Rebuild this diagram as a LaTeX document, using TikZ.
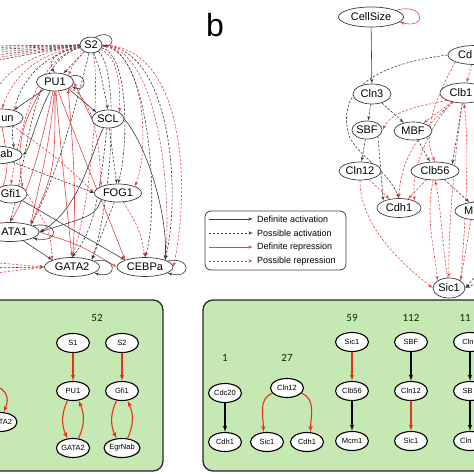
\documentclass[tikz,border=0pt]{standalone}
\usepackage{fontspec}
\setmainfont{Liberation Sans}
\newfontfamily\numfont{Carlito}
\usepackage{tikz}
\usetikzlibrary{arrows}
\usetikzlibrary{shapes,backgrounds}
\definecolor{netred}{RGB}{228,70,72}
\definecolor{motred}{RGB}{226,52,28}
\definecolor{motgreen}{RGB}{198,232,178}
\definecolor{netgray}{RGB}{60,60,60}
\tikzstyle{net}  = [ellipse, draw=netgray, line width=0.7pt, fill=white, inner sep=0pt, minimum height=18, font=\fontsize{11}{12}\selectfont]
\tikzstyle{act}  = [draw=netgray, -{latex'}, line width=0.6pt]
\tikzstyle{dact} = [act, dash pattern=on 2.4pt off 1.6pt]
\tikzstyle{rep}  = [draw=netred, -{latex'}, line width=0.6pt]
\tikzstyle{drep} = [rep, dash pattern=on 2.4pt off 1.6pt]
\tikzstyle{mot}  = [ellipse, draw=black, line width=1.1pt, fill=white, inner sep=0pt, minimum width=33, minimum height=19, font=\fontsize{7.5}{8}\selectfont]
\tikzstyle{mact} = [draw=black, -{latex'}, line width=1.1pt]
\tikzstyle{mrep} = [draw=motred, -{latex'}, line width=1.1pt]
\tikzstyle{num}  = [font=\numfont\fontsize{11}{12}\selectfont, text=black!80!green]

\begin{document}
\begin{tikzpicture}[x=1pt,y=-1pt]
	\useasboundingbox (0,0) rectangle (474,474);
	% -------------- Network a --------------
	\node[net, minimum width=22, minimum height=16] (S2)   at (91,45)  {S2};
	\node[net, minimum width=37] 				  (PU1)    at (55,82)  {PU1};
	\node[net, minimum width=42] 				  (cJun)   at (2,118)  {\phantom{cJ}un};
	\node[net, minimum width=56] 				  (EgrNab) at (-6,155) {\phantom{EgrN}ab};
	\node[net, minimum width=32] 				  (Gfi1)   at (11,194) {Gfi1};
	\node[net, minimum width=58, minimum height=19] (GATA1)  at (10,232) {\phantom{G}ATA1};
	\node[net, minimum width=32] 				  (SCL)    at (108,119) {SCL};
	\node[net, minimum width=47] 				  (FOG1)   at (118,193) {FOG1};
	\node[net, minimum width=55, minimum height=19] (GATA2)  at (72,267) {GATA2};
	\node[net, minimum width=56, minimum height=19] (CEBPa)  at (145,267) {CEBPa};
	\begin{scope}[on background layer]
	\clip (0,0) rectangle (474,474);
	% S2 towards the left edge
	\foreach \yy/\s in {46/dact, 48/drep, 50/dact, 53/drep, 56/dact, 59/drep, 62/dact}
		{\coordinate (w\yy) at (-12,\yy); \draw[\s] (S2.west) -- (w\yy);}
	\draw[drep] (S2) .. controls (45,52) and (15,70)   .. (cJun.north);
	\draw[dact] (S2) .. controls (40,55) and (5,90)    .. (EgrNab.north east);
	\draw[drep] (S2) .. controls (35,58) and (20,130)  .. (Gfi1.north);
	\draw[dact] (S2) .. controls (30,60) and (28,160)  .. (GATA1.north);
	\draw[drep] (S2) .. controls (25,52) and (-5,80)   .. (cJun.north west);
	\draw[dact] (S2) -- (PU1);
	\draw[drep] (S2) .. controls (78,58) and (72,66)   .. (PU1.north east);
	\draw[dact] (S2) .. controls (60,50) and (45,60)   .. (PU1.north);
	% S2 towards the right side
	\draw[dact] (S2) .. controls (100,70) 			   .. (SCL.north);
	\draw[drep] (S2) .. controls (120,58) and (120,90) .. (SCL.north east);
	\draw[dact] (S2) .. controls (130,55) and (128,150) .. (FOG1.north);
	\draw[drep] (S2) .. controls (145,50) and (150,150) .. (FOG1.north east);
	\draw[dact] (S2) .. controls (150,46) and (160,210) .. (CEBPa.north);
	\draw[drep] (S2) .. controls (160,47) and (172,200) .. (CEBPa.north east);
	\draw[dact] (S2) .. controls (170,46) and (182,190) .. (CEBPa.north east);
	\draw[drep] (S2) .. controls (182,45) and (192,180) .. (CEBPa.east);
	\draw[dact] (S2) .. controls (120,70) and (112,200) .. (GATA2.north east);
	\draw[drep] (S2) .. controls (100,80) and (92,200)  .. (GATA2.north);
	\draw[dact] (S2) .. controls (80,90) and (60,170)   .. (GATA1.north east);
	% PU1 repression
	\draw[rep] (PU1) .. controls (40,150) and (30,190)  .. (GATA1.north);
	\draw[rep] (PU1) .. controls (50,150) and (35,200)  .. (GATA1.north east);
	\draw[rep] (GATA1.north east) .. controls (55,170) .. (PU1.south);
	\draw[rep] (PU1) .. controls (62,160) 			   .. (GATA2.north);
	\draw[rep] (GATA2) .. controls (78,180) and (70,120) .. (PU1.south east);
	\draw[rep] (PU1) .. controls (80,150) and (110,220) .. (CEBPa.north west);
	\draw[rep] (PU1.south west) .. controls (25,120) and (15,140) .. (Gfi1.north east);
	\draw[rep] (SCL.west) -- (PU1.east);
	\draw[rep] (GATA1.east) .. controls (80,245) 		   .. (CEBPa.west);
	\draw[rep] (cJun.south) .. controls (10,170) 		   .. (GATA1.north west);
	% activation
	\draw[act] (PU1) -- (cJun);
	\draw[act] (PU1) .. controls (35,120) and (30,150)  .. (EgrNab.east);
	\draw[act] (PU1.south east) -- (SCL.north west);
	\draw[act] (SCL) .. controls (92,150) and (80,210)  .. (GATA1.east);
	\draw[act] (FOG1.south west) .. controls (95,215)   .. (GATA1.east);
	\draw[act] (Gfi1) -- (CEBPa.north west);
	\draw[act] (SCL.east) .. controls (150,150) and (168,220) .. (CEBPa.north east);
	\draw[act] (GATA1) -- (GATA2.north west);
	% other possible edges
	\draw[drep] (PU1) .. controls (100,100) and (100,170) .. (FOG1.north west);
	\draw[dact] (SCL) -- (FOG1);
	\draw[drep] (cJun) .. controls (60,160) 				  .. (FOG1.west);
	\draw[dact] (EgrNab) -- (FOG1.west);
	\draw[drep] (FOG1) .. controls (140,230) 			  .. (CEBPa.north);
	\draw[dact] (FOG1) -- (GATA2.north east);
	\draw[dact] (SCL) .. controls (100,190) and (95,230)  .. (GATA2.north);
	\draw[drep] (Gfi1.east) .. controls (50,230) 		  .. (GATA2.north west);
	\foreach \yy/\s in {262/drep, 268/dact, 274/drep}
		{\coordinate (g\yy) at (-12,\yy); \draw[\s] (g\yy) -- (GATA2.west);}
	% self loops
	\draw[act] (S2.60)    .. controls (112,28) and (118,46)  .. (S2.-5);
	\draw[act] (PU1.20)   .. controls (88,70) and (88,94)    .. (PU1.-15);
	\draw[act] (GATA1.15) .. controls (60,220) and (60,244)  .. (GATA1.-15);
	\draw[act] (GATA2.15) .. controls (118,256) and (118,280) .. (GATA2.-15);
	\draw[act] (CEBPa.15) .. controls (192,256) and (192,280) .. (CEBPa.-15);
	\end{scope}
	% -------------- Network b --------------
	\node[font=\fontsize{32}{32}\selectfont] (lblb) at (215,25) {b};
	\node[net, minimum width=65, minimum height=20] (CellSize) at (371,17) {CellSize};
	\node[net, minimum width=52, minimum height=19] (Cdc20)    at (474,55) {Cd\phantom{c20}};
	\node[net, minimum width=38, minimum height=20] (Cln3)     at (372,94) {Cln3};
	\node[net, minimum width=48, minimum height=20] (Clb12)    at (464,93) {Clb1\phantom{2}};
	\node[net, minimum width=30] 				  (SBF)      at (367,130) {SBF};
	\node[net, minimum width=38] 				  (MBF)      at (413,131) {MBF};
	\node[net, minimum width=42] 				  (Cln12)    at (360,171) {Cln12};
	\node[net, minimum width=48] 				  (Clb56)    at (435,171) {Clb56};
	\node[net, minimum width=44, minimum height=19] (Cdh1)     at (399,208) {Cdh1};
	\node[net, minimum width=48] 				  (Mcm1)     at (479,211) {M\phantom{cm1}};
	\node[net, minimum width=32, minimum height=20] (Sic1)     at (449,288) {Sic1};
	\begin{scope}[on background layer]
	\clip (0,0) rectangle (474,474);
	\draw[rep]  (CellSize.15) .. controls (425,2) and (428,30) .. (CellSize.-10);
	\draw[act]  (CellSize) -- (Cln3);
	\draw[dact] (Cln3) -- (SBF);
	\draw[dact] (Cln3) -- (MBF);
	\draw[dact] (Cdc20.west) .. controls (345,68) and (340,110) .. (350,138) .. controls (362,160) and (388,170) .. (Cdh1.north);
	\draw[drep] (Cdc20) -- (Clb12);
	\draw[drep] (Cdc20.south west) .. controls (440,90) and (420,130) .. (Clb56.north);
	\draw[drep] (Clb12) -- (MBF);
	\draw[drep] (Clb12.south west) .. controls (410,108) and (392,112) .. (SBF.east);
	\draw[dact] (SBF) -- (Cln12);
	\draw[dact] (SBF.south east) -- (Cdh1.north west);
	\draw[dact] (MBF) -- (Clb56);
	\draw[dact] (Clb12) -- (Clb56.north east);
	\draw[drep] (Clb12) .. controls (420,130) and (400,160) .. (Cdh1.north);
	\draw[drep] (Clb12) .. controls (432,120) and (410,170) .. (Cdh1.north east);
	\draw[drep] (Cln12) -- (Cdh1);
	\draw[drep] (Clb56) -- (Cdh1);
	\draw[dact] (Clb56) -- (Mcm1);
	\draw[drep] (Cln12.south) .. controls (360,230) and (410,270) .. (Sic1.west);
	\draw[drep] (Clb56) .. controls (425,220) and (435,250) .. (Sic1.north west);
	\draw[drep] (Sic1) .. controls (442,240) and (440,200) .. (Clb56.south);
	\draw[drep] (Clb12) .. controls (455,150) and (448,230) .. (Sic1.north);
	\draw[drep] (Sic1.north east) .. controls (465,230) and (470,150) .. (Clb12.south);
	\draw[drep] (Clb12.south east) .. controls (478,180) .. (Sic1.north east);
	\foreach \yy/\s in {266/dact, 280/dact}
		{\coordinate (e\yy) at (484,\yy); \draw[\s] (e\yy) -- (Sic1.east);}
	\end{scope}
	% -------------- Legend --------------
	\draw[rounded corners=6, draw=black!75, line width=0.8pt] (205,211) rectangle (346,270);
	\foreach \i/\s/\txt/\yy in {1/act/Definite activation/219, 2/dact/Possible activation/233, 3/rep/Definite repression/247, 4/drep/Possible repression/261}
		{\coordinate (la\i) at (209,\yy); \coordinate (lb\i) at (253,\yy);
		 \draw[\s] (la\i) -- (lb\i);
		 \node[anchor=west, font=\fontsize{9}{10}\selectfont, inner sep=0pt] (lt\i) at (257,\yy) {\txt};}
	% -------------- Motif panels --------------
	\draw[fill=motgreen, draw=black!85, line width=1.3pt, rounded corners=10] (-20,300) rectangle (163,471);
	\draw[fill=motgreen, draw=black!85, line width=1.3pt, rounded corners=10] (203,300) rectangle (500,471);
	\node[num] (n52)      at (97,318)  {52};
	\node[mot] (pS1)      at (73,343)  {S1};
	\node[mot] (pS2)      at (122,343) {S2};
	\node[mot] (pPU1)     at (73,391)  {PU1};
	\node[mot] (pGfi1)    at (122,391) {Gfi1};
	\node[mot] (pGATA2)   at (73,448)  {GATA2};
	\node[mot] (pEgrNab)  at (122,448) {EgrNab};
	\node[mot] (pGATA2b)  at (0,422)   {\phantom{GA}TA2};
	\coordinate (pw) at (-16,384);
	\draw[mrep] (pS1) -- (pPU1);
	\draw[mrep] (pS2) -- (pGfi1);
	\draw[mrep] (pPU1.240) to[bend right=25] (pGATA2.120);
	\draw[mrep] (pGATA2.60) to[bend right=25] (pPU1.-60);
	\draw[mrep] (pGfi1.240) to[bend right=25] (pEgrNab.120);
	\draw[mrep] (pEgrNab.60) to[bend right=25] (pGfi1.-60);
	\draw[mrep] (pw) .. controls (8,386) and (10,398) .. (pGATA2b.70);
	% right panel
	\node[num] (n1)       at (225,358) {1};
	\node[mot] (pCdc20)   at (225,393) {Cdc20};
	\node[mot] (pCdh1)    at (225,442) {Cdh1};
	\node[num] (n27)      at (287,358) {27};
	\node[mot] (pCln12)   at (287,388) {Cln12};
	\node[mot] (pSic1)    at (267,442) {Sic1};
	\node[mot] (pCdh1b)   at (307,442) {Cdh1};
	\node[num] (n59)      at (352,318) {59};
	\node[mot] (pSic1b)   at (352,342) {Sic1};
	\node[mot] (pClb56)   at (352,391) {Clb56};
	\node[mot] (pMcm1)    at (352,441) {Mcm1};
	\node[num] (n112)     at (411,318) {112};
	\node[mot] (pSBF)     at (411,342) {SBF};
	\node[mot] (pCln12b)  at (411,391) {Cln12};
	\node[mot] (pSic1c)   at (411,441) {Sic1};
	\node[num, anchor=west] (n11) at (456,318) {11};
	\node[mot] (pCln3)    at (470,342) {Cln\phantom{3}};
	\node[mot] (pSBFb)    at (470,391) {SB\phantom{F}};
	\node[mot] (pCln12c)  at (470,441) {Cln\phantom{12}};
	\draw[mact] (pCdc20) -- (pCdh1);
	\draw[mrep] (pCln12.200) to[out=200,in=90] (pSic1.110);
	\draw[mrep] (pCln12.-20) to[out=-20,in=90] (pCdh1b.70);
	\draw[mrep] (pSic1b) -- (pClb56);
	\draw[mact] (pClb56) -- (pMcm1);
	\draw[mact] (pSBF) -- (pCln12b);
	\draw[mrep] (pCln12b) -- (pSic1c);
	\draw[mact] (pCln3) -- (pSBFb);
	\draw[mact] (pSBFb) -- (pCln12c);
\end{tikzpicture}
\end{document}
